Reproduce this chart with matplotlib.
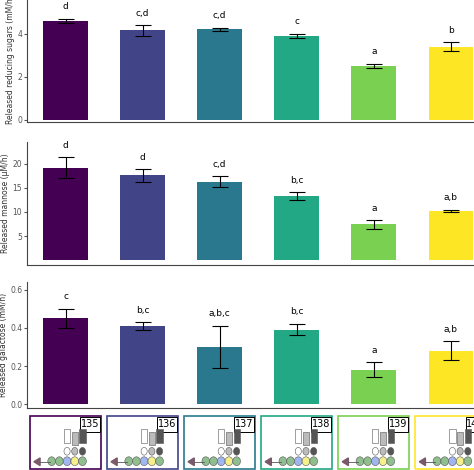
import matplotlib
matplotlib.use("Agg")
import matplotlib.pyplot as plt
from matplotlib.patches import Rectangle, Polygon, Ellipse

strains = ["135", "136", "137", "138", "139", "140"]
colors = ["#440154", "#414487", "#2A788E", "#22A884", "#7AD151", "#FDE725"]
sugar = [4.6, 4.15, 4.2, 3.9, 2.5, 3.4]
sugar_err = [0.1, 0.25, 0.08, 0.1, 0.1, 0.2]
sugar_lab = ["d", "c,d", "c,d", "c", "a", "b"]
mannose = [19.2, 17.6, 16.3, 13.3, 7.4, 10.2]
mannose_err = [2.2, 1.3, 1.1, 0.8, 0.9, 0.3]
mannose_lab = ["d", "d", "c,d", "b,c", "a", "a,b"]
galac = [0.45, 0.41, 0.30, 0.39, 0.18, 0.28]
galac_err = [0.05, 0.02, 0.11, 0.03, 0.04, 0.05]
galac_lab = ["c", "b,c", "a,b,c", "b,c", "a", "a,b"]

W, H = 474, 470
fig = plt.figure(figsize=(W/100, H/100), dpi=100)
left, right = 27/W, 1.0

panels = [
    (sugar, sugar_err, sugar_lab, "Released reducing sugars (mM/h)", (-0.1, 5.7), [0, 2, 4], -3, 122),
    (mannose, mannose_err, mannose_lab, "Released mannose (\u03bcM/h)", (-1, 24.5), [5, 10, 15, 20], 142, 265),
    (galac, galac_err, galac_lab, "Released galactose (mM/h)", (-0.02, 0.64), [0.0, 0.2, 0.4, 0.6], 282, 408),
]
x = list(range(len(strains)))
for vals, errs, labs, ylab, ylim, ticks, top, bot in panels:
    ax = fig.add_axes([left, 1 - bot/H, right - left, (bot - top)/H])
    ax.bar(x, vals, width=0.58, color=colors)
    ax.errorbar(x, vals, yerr=errs, fmt="none", ecolor="black", elinewidth=0.8, capsize=6, capthick=0.8)
    span = ylim[1] - ylim[0]
    for xi, v, e, l in zip(x, vals, errs, labs):
        ax.text(xi, v + e + span*0.06, l, ha="center", va="bottom", fontsize=6.5)
    ax.set_ylim(*ylim)
    ax.set_xlim(-0.5, 5.3)
    ax.set_yticks(ticks)
    ax.tick_params(axis="y", labelsize=5.5, colors="#555555", length=2, pad=1.5)
    ax.set_xticks([])
    ax.set_ylabel(ylab, fontsize=5.5, color="#333333", labelpad=1.5)
    for s in ["top", "right"]:
        ax.spines[s].set_visible(False)
    for s in ["left", "bottom"]:
        ax.spines[s].set_color("#444444")
        ax.spines[s].set_linewidth(0.8)

# bottom schematic boxes
axb = fig.add_axes([left, 0, right - left, 55/H])
axb.set_xlim(-0.5, 5.3)
axb.set_ylim(0, 1)
axb.axis("off")
for xi, (s, c) in enumerate(zip(strains, colors)):
    axb.add_patch(Rectangle((xi - 0.46, 0.02), 0.92, 0.96, fill=False, ec=c, lw=1.2))
    axb.add_patch(Rectangle((xi + 0.19, 0.7), 0.26, 0.27, fc="white", ec="black", lw=0.7))
    axb.text(xi + 0.32, 0.835, s, ha="center", va="center", fontsize=7)
    axb.add_patch(Polygon([[xi - 0.41, 0.15], [xi - 0.33, 0.08], [xi - 0.33, 0.22]], color="#7a5a6a"))
    axb.plot([xi - 0.33, xi - 0.2], [0.15, 0.15], color="#555", lw=0.6)
    for k, cc in enumerate(["#8fbf8f", "#8fbf8f", "#9fb6f0", "#f5f08a", "#8fbf8f"]):
        axb.add_patch(Ellipse((xi - 0.18 + k*0.1, 0.16), 0.1, 0.16, fc=cc, ec="#555", lw=0.4))
    for k, cc in enumerate(["white", "#bbbbbb", "#555555"]):
        axb.add_patch(Ellipse((xi + 0.02 + k*0.1, 0.34), 0.08, 0.14, fc=cc, ec="#555", lw=0.4))
        axb.add_patch(Rectangle((xi - 0.02 + k*0.1, 0.45 + 0.05*(k % 2 == 0)), 0.08, 0.25, fc=cc, ec="#555", lw=0.4))

fig.savefig("out.png", dpi=100)
